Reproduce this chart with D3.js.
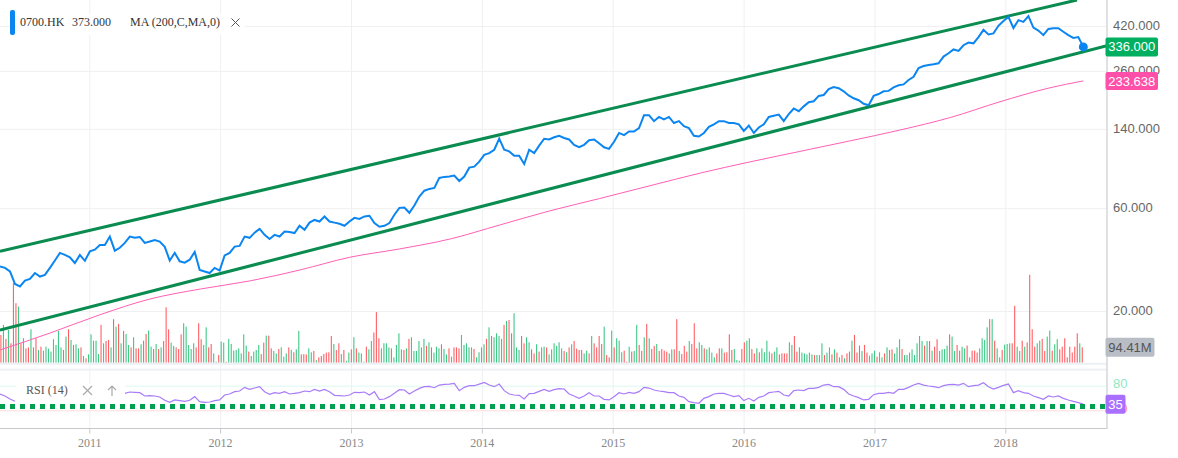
<!DOCTYPE html>
<html>
<head>
<meta charset="utf-8">
<title>0700.HK</title>
<script src="https://cdn.jsdelivr.net/npm/d3@7"></script>
<style>
html, body { margin: 0; padding: 0; background: #fff; overflow: hidden; }
svg { display: block; }
.serif { font-family: "Liberation Serif", serif; }
.sans { font-family: "Liberation Sans", sans-serif; }
</style>
</head>
<body>
<svg id="chart" width="1178" height="458"></svg>
<script>

// all values
var symbol = '0700.HK';
var last_close = '373.000';
var ma_name = 'MA (200,C,MA,0)';
var rsi_name = 'RSI (14)';

var year_ticks = [2011, 2012, 2013, 2014, 2015, 2016, 2017, 2018];
var price_ticks = [420, 260, 140, 60, 20];
var rsi_ticks = [80, 20];

var first_year = 2010.318;
var last_year = 2018.596;
var vol_first_year = 2010.325;
var vol_last_year = 2018.588;

var price_last = 336;
var ma_last = 233.638;
var volume_last = 94.41;
var rsi_last = 35;
var rsi_level = 29.4;

var prices = [
    32.2, 31.7, 30.5, 26.7, 26.0, 27.7, 28.2, 30.0, 28.9, 29.4,
    31.7, 34.3, 37.2, 36.4, 35.5, 33.4, 36.4, 34.2, 37.8, 38.5,
    40.5, 40.5, 44.3, 38.1, 39.3, 41.4, 44.3, 43.7, 44.1, 41.4,
    42.0, 42.7, 42.0, 39.7, 34.3, 37.2, 34.0, 33.5, 34.6, 37.6,
    31.0, 30.5, 30.0, 31.7, 30.8, 36.2, 37.2, 39.8, 40.1, 44.3,
    43.7, 46.2, 48.1, 45.1, 43.2, 45.1, 44.3, 46.7, 46.5, 46.0,
    49.7, 47.6, 51.4, 52.9, 52.0, 54.9, 52.0, 51.4, 50.8, 49.7,
    52.0, 54.1, 53.5, 54.9, 55.3, 51.2, 49.2, 49.7, 51.2, 55.9,
    60.2, 60.4, 57.1, 61.7, 67.9, 72.3, 73.7, 74.5, 82.9, 83.8,
    84.1, 85.0, 80.2, 84.1, 92.5, 93.5, 98.6, 106, 108, 112,
    126, 112, 110, 105, 105, 96.2, 112, 108, 117, 126,
    125, 128, 130, 127, 125, 118, 115, 118, 124, 125,
    120, 115, 113, 122, 134, 131, 136, 136, 141, 162,
    162, 152, 159, 155, 159, 149, 152, 144, 141, 130,
    129, 134, 143, 147, 152, 152, 149, 149, 147, 137,
    145, 134, 142, 147, 159, 161, 163, 152, 164, 174,
    169, 178, 186, 188, 199, 201, 214, 219, 216, 209,
    200, 194, 190, 183, 180, 199, 203, 209, 210, 218,
    223, 225, 236, 244, 268, 274, 277, 279, 282, 303,
    314, 327, 322, 342, 352, 349, 373, 403, 384, 388,
    421, 443, 463, 411, 447, 439, 467, 413, 400, 381,
    407, 410, 410, 395, 381, 370, 373, 336
];

var ma_years = [2010.32, 2010.70, 2011.08, 2011.46, 2011.85, 2012.23, 2012.61, 2012.99,
    2013.37, 2013.76, 2014.14, 2014.52, 2014.90, 2015.28, 2015.67, 2016.05,
    2016.43, 2016.81, 2017.19, 2017.58, 2017.96, 2018.34, 2018.596];
var ma_values = [13.2, 15.8, 19.2, 22.7, 25.3, 27.6, 31.0, 35.5,
    38.8, 43.2, 50.2, 58.3, 66.5, 76.1, 87.3, 98.4,
    110, 123, 138, 158, 187, 217, 233.638];

// the two hand drawn channel lines: [year, price] at both ends
var channel_years = [[2010.318, 2018.548], [2010.318, 2018.777]];
var channel_values = [[37.8, 554.6], [16.3, 340]];

// volume in millions, weekly
var volumes = [
    170, 232, 146, 201, 119, 488, 365, 344, 119, 150,
    88, 94, 205, 94, 150, 78, 98, 74, 98, 86,
    68, 144, 109, 195, 94, 78, 160, 205, 139, 109,
    113, 88, 94, 41, 27, 51, 174, 135, 135, 53,
    232, 119, 133, 139, 94, 267, 221, 238, 119, 195,
    176, 109, 94, 156, 88, 88, 113, 135, 176, 197,
    98, 84, 115, 84, 94, 133, 340, 205, 123, 103,
    94, 84, 174, 242, 221, 109, 84, 119, 94, 242,
    144, 109, 217, 94, 115, 57, 6, 47, 129, 123,
    6, 146, 115, 74, 78, 88, 57, 174, 105, 68,
    41, 68, 78, 109, 53, 123, 166, 166, 88, 72,
    57, 84, 94, 37, 57, 94, 78, 64, 82, 195,
    51, 53, 51, 88, 64, 72, 16, 33, 41, 53,
    62, 64, 164, 115, 78, 119, 53, 78, 12, 62,
    82, 156, 88, 62, 57, 6, 98, 82, 133, 185,
    310, 150, 88, 119, 119, 94, 88, 33, 109, 180,
    82, 78, 88, 146, 156, 72, 72, 133, 94, 146,
    103, 125, 94, 62, 98, 88, 113, 84, 51, 88,
    37, 94, 94, 88, 170, 109, 119, 94, 94, 84,
    33, 64, 94, 113, 146, 217, 164, 156, 180, 164,
    146, 232, 256, 262, 180, 303, 94, 78, 164, 119,
    156, 125, 82, 57, 113, 68, 94, 98, 94, 51,
    82, 119, 103, 125, 88, 72, 64, 94, 113, 133,
    86, 78, 78, 57, 74, 57, 164, 119, 94, 164,
    115, 221, 47, 33, 197, 94, 150, 135, 64, 74,
    6, 98, 68, 72, 232, 109, 72, 156, 238, 150,
    84, 103, 115, 72, 84, 74, 68, 57, 82, 82,
    267, 72, 53, 103, 68, 133, 115, 242, 88, 125,
    109, 88, 82, 94, 62, 33, 57, 88, 88, 62,
    64, 174, 78, 84, 16, 12, 84, 125, 135, 150,
    84, 57, 88, 64, 88, 64, 135, 68, 57, 68,
    94, 51, 57, 57, 57, 125, 109, 164, 68, 94,
    62, 57, 51, 62, 51, 47, 47, 47, 119, 47,
    62, 94, 51, 82, 62, 33, 47, 27, 57, 68,
    135, 170, 62, 105, 72, 109, 62, 43, 57, 74,
    37, 64, 33, 57, 94, 78, 82, 57, 94, 144,
    84, 47, 47, 62, 82, 47, 119, 164, 133, 105,
    133, 133, 74, 98, 144, 72, 82, 84, 105, 174,
    160, 72, 109, 74, 98, 88, 105, 33, 74, 74,
    62, 88, 150, 139, 217, 267, 267, 135, 88, 33,
    78, 111, 115, 119, 119, 349, 98, 72, 135, 98,
    125, 539, 205, 98, 119, 135, 146, 72, 160, 197,
    74, 113, 144, 82, 98, 150, 33, 98, 62, 98,
    180, 119, 94.41
];

// g = up week, r = down week, same order as volumes
var volume_dirs = [
    'rgrgrrrgrg', 'rrgrrgrggg', 'gggggrgrgr', 'ggrgrggggg', 'rgrrgrgrgr', 'ggrgrrgrrg',
    'grgrgrrrgg', 'rrrgggggrr', 'rggrrggrgg', 'rggggggggr', 'ggggrrgrrg', 'grgggrgrgg',
    'rrrggrgrrr', 'rrrgrrgrgg', 'rgrgggrggr', 'rrggggrggg',
    'grgrgggggg', 'rgrgggrggr', 'grrrgggggr', 'ggggrgrggg', 'grgrrgggrr', 'ggrrgrggrg',
    'gggggrgrgr', 'rrrggrgrrr', 'rgrrgrgggr', 'rgrggrrgrg', 'rrgrrrrggr', 'rgrrrgrrrg',
    'grggggrrgr', 'rrrgggrrgg', 'rrgrggggrg', 'grrrrggrrg',
    'gggggrgggr', 'ggrgrgrgrr', 'grrrgrrggg', 'rggrgrrggg', 'rggggggggr', 'grgrrggggr',
    'ggrrggrgrr', 'rggggrgrgg', 'rgggrrggrg', 'rrrrggrrgg', 'rggrrrrrrr', 'rgr'
].join('');

// same dates as prices, null where the RSI title box sits over the line
var rsi_values = [
    59.8, 54.9, 47.6, 41.9,
    null, null, null, null, null, null, null, null, null, null, null,
    null, null, null, null, null, null, null, null, null, null,
    61.4, 64.6, 63.8, 63.0, 54.9, 55.7, 54.9, 52.5, 44.4, 39.5,
    45.2, 43.6, 41.9, 44.4, 53.3, 41.1, 39.5, 40.3, 43.6, 45.2,
    57.3, 59.8, 65.4, 67.0, 76.0, 71.1, 74.3, 77.6, 65.4, 58.9,
    63.0, 61.4, 65.4, 59.8, 61.4, 63.0, 67.0, 65.4, 71.1, 67.0,
    71.1, 65.4, 56.5, 55.7, 54.9, 57.3, 63.8, 63.0, 64.6, 57.3,
    65.4, 46.0, 47.6, 53.3, 61.4, 70.3,
    69.5, 59.8, 67.0, 73.5, 77.6, 78.4, 75.1, 81.6, 83.2,
    84.0, 85.7, 67.9, 76.0, 80.0, 80.0, 84.0, 88.1, 81.6, 77.6,
    84.0, 67.9, 59.8, 57.3, 56.5, 47.6, 60.6, 61.4, 66.2, 71.1,
    66.2, 70.3, 72.7, 71.9, 59.8, 54.9, 49.2, 54.9, 63.0, 54.9,
    54.9, 46.8, 45.2, 53.3, 63.0, 59.8, 63.8, 61.4, 65.4, 76.0,
    74.3, 69.5, 67.0, 65.4, 63.0, 63.0, 54.9, 51.6, 41.1, 38.7,
    37.1, 49.2, 53.3, 59.8, 61.4, 61.4, 57.3, 53.3, 55.7, 43.6,
    49.2, 42.7, 51.6, 54.9, 63.0, 64.6, 66.2, 57.3, 54.9, 67.9,
    69.5, 67.9, 73.5, 73.5, 76.0, 81.6, 83.2, 77.6, 77.6, 71.1,
    59.8, 54.9, 50.8, 45.2, 46.8, 58.1, 61.4, 61.4, 63.8, 61.4,
    71.1, 71.1, 76.0, 81.6, 85.7, 81.6, 79.2, 77.6, 75.1, 80.0,
    82.4, 83.2, 81.6, 85.7, 77.6, 80.0, 81.6, 87.3, 77.6, 71.9,
    76.0, 80.8, 84.0, 63.0, 67.9, 63.0, 61.4, 54.9, 50.8, 46.8,
    54.9, 52.5, 54.9, 49.2, 45.2, 41.9, 38.7, 35
];

var svg = d3.select('#chart');
var plot_right = 1107;

var x = d3.scaleLinear().domain([first_year, 2018.777]).range([0, plot_right]);
var y = d3.scaleLog().domain([20, 420]).range([311, 26]);
var y_volume = d3.scaleLinear().domain([0, volume_last]).range([362.7, 347.3]);
var y_rsi = d3.scaleLinear().domain([20, 80]).range([410.3, 385.7]);

var price_step = (last_year - first_year) / (prices.length - 1);
var price_years = prices.map(function(d, i) { return first_year + i * price_step; });
var vol_step = (vol_last_year - vol_first_year) / (volumes.length - 1);

svg.append('defs').append('clipPath').attr('id', 'plot-clip')
    .append('rect').attr('width', plot_right).attr('height', 428);

// grid
var x_grid = svg.append('g').attr('transform', 'translate(0,428)')
    .call(d3.axisBottom(x).tickValues(year_ticks).tickSize(-428).tickFormat(''));
x_grid.select('.domain').remove();
x_grid.selectAll('line').attr('stroke', '#eef0f2');

var y_grid = svg.append('g')
    .call(d3.axisRight(y).tickValues(price_ticks).tickSize(plot_right).tickFormat(''));
y_grid.select('.domain').remove();
y_grid.selectAll('line').attr('stroke', '#f0f0f0');

var rsi_grid = svg.append('g')
    .call(d3.axisRight(y_rsi).tickValues(rsi_ticks).tickSize(plot_right).tickFormat(''));
rsi_grid.select('.domain').remove();
rsi_grid.selectAll('line').attr('stroke', function(d) { return d == 80 ? '#dcf8ef' : '#ffdcdc'; });

var plot = svg.append('g').attr('clip-path', 'url(#plot-clip)');

// volume
plot.append('g').selectAll('rect')
    .data(volumes)
    .enter().append('rect')
    .attr('x', function(d, i) { return x(vol_first_year + i * vol_step) - 0.55; })
    .attr('y', function(d) { return y_volume(d); })
    .attr('width', 1.1)
    .attr('height', function(d) { return y_volume(0) - y_volume(d); })
    .attr('fill', function(d, i) { return volume_dirs[i] == 'g' ? '#3fc886' : '#ff6066'; });

// panel separators
[[362.8, 2], [368.6, 2]].forEach(function(b) {
    svg.append('rect').attr('x', 0).attr('y', b[0]).attr('width', plot_right).attr('height', b[1]).attr('fill', '#edf0f5');
});

var line = d3.line()
    .x(function(d) { return x(d[0]); })
    .y(function(d) { return y(d[1]); });

// moving average
plot.append('path')
    .attr('d', line.curve(d3.curveMonotoneX)(d3.zip(ma_years, ma_values)))
    .attr('fill', 'none').attr('stroke', '#ff5fb4').attr('stroke-width', 1);
line.curve(d3.curveLinear);

// channel
channel_years.forEach(function(years, i) {
    plot.append('path')
        .attr('d', line(d3.zip(years, channel_values[i])))
        .attr('fill', 'none').attr('stroke', '#0a8c50').attr('stroke-width', 3);
});

// price
plot.append('path')
    .attr('d', line(d3.zip(price_years, prices)))
    .attr('fill', 'none').attr('stroke', '#0b86f1').attr('stroke-width', 2);

svg.append('circle')
    .attr('cx', x(last_year)).attr('cy', y(price_last)).attr('r', 4.5).attr('fill', '#0b86f1');

// rsi
var rsi_line = d3.line()
    .defined(function(d) { return d != null; })
    .x(function(d, i) { return x(price_years[i]); })
    .y(function(d) { return y_rsi(d); });

svg.append('path')
    .attr('d', rsi_line(rsi_values))
    .attr('fill', 'none').attr('stroke', '#a97cf8').attr('stroke-width', 1.2);

svg.append('line')
    .attr('x1', 0).attr('x2', 1110)
    .attr('y1', y_rsi(rsi_level)).attr('y2', y_rsi(rsi_level))
    .attr('stroke', '#00a050').attr('stroke-width', 5).attr('stroke-dasharray', '5,5');

// axes
var x_axis = svg.append('g').attr('transform', 'translate(0,428.5)')
    .call(d3.axisBottom(x).tickValues(year_ticks).tickSize(5).tickPadding(5).tickFormat(d3.format('d')));
x_axis.select('.domain').attr('d', 'M0,0H' + plot_right).attr('stroke', '#c6c8cc');
x_axis.selectAll('line').attr('stroke', '#c6c8cc');
x_axis.selectAll('text').attr('class', 'serif').attr('font-size', 12).attr('fill', '#888');

svg.append('line').attr('x1', plot_right).attr('x2', plot_right).attr('y1', 0).attr('y2', 429)
    .attr('stroke', '#d5d7da').attr('stroke-width', 1.5);

var y_axis = svg.append('g').attr('transform', 'translate(' + plot_right + ',0)')
    .call(d3.axisRight(y).tickValues(price_ticks).tickSize(0).tickPadding(6).tickFormat(d3.format('.3f')));
y_axis.select('.domain').remove();
y_axis.selectAll('text').attr('class', 'sans').attr('font-size', 13).attr('fill', '#666').attr('dy', '0.28em');

var rsi_axis = svg.append('g').attr('transform', 'translate(' + plot_right + ',-1.5)')
    .call(d3.axisRight(y_rsi).tickValues(rsi_ticks).tickSize(0).tickPadding(6));
rsi_axis.select('.domain').remove();
rsi_axis.selectAll('text').attr('class', 'sans').attr('font-size', 13).attr('dy', '0.28em')
    .attr('fill', function(d) { return d == 80 ? '#8fe8c0' : '#ff8a8a'; });

// value tags on the right
var tag = function(cy, w, h, fill, color, label) {
    svg.append('rect').attr('x', 1105.5).attr('y', cy - h / 2).attr('width', w).attr('height', h).attr('rx', 2).attr('fill', fill);
    svg.append('text').attr('class', 'sans').attr('x', 1105.5 + w / 2).attr('y', cy + 4.6)
        .attr('text-anchor', 'middle').attr('font-size', 13).attr('fill', color).text(label);
};

tag(y(price_last), 52.5, 19, '#00b060', '#fff', d3.format('.3f')(price_last));
tag(y(ma_last), 52.5, 18, '#ff4fa8', '#fff', d3.format('.3f')(ma_last));
tag(y_volume(volume_last), 49, 19, '#b9bdc5', '#555', volume_last + 'M');
tag(y_rsi(rsi_last), 20, 19, '#a970ff', '#fff', rsi_last);

// legends
svg.append('rect').attr('x', 16).attr('y', 14).attr('width', 229).attr('height', 21).attr('fill', '#fff');
svg.append('rect').attr('x', 10).attr('y', 10).attr('width', 5).attr('height', 25).attr('rx', 2).attr('fill', '#0b86f1');

var legend_text = function(px, py, color, label) {
    svg.append('text').attr('class', 'serif').attr('x', px).attr('y', py)
        .attr('font-size', 12).attr('fill', color).text(label);
};

legend_text(20, 26, '#333', symbol);
legend_text(72, 26, '#333', last_close);
legend_text(130, 26, '#333', ma_name);

svg.append('path').attr('d', d3.line()([[231.5, 18.5], [239.5, 26.5]]) + d3.line()([[239.5, 18.5], [231.5, 26.5]]))
    .attr('fill', 'none').attr('stroke', '#555').attr('stroke-width', 1);

svg.append('rect').attr('x', 16).attr('y', 384).attr('width', 109).attr('height', 14).attr('fill', '#fff');
legend_text(26, 394, '#555', rsi_name);

svg.append('path').attr('d', d3.line()([[83, 386], [92, 395]]) + d3.line()([[92, 386], [83, 395]]))
    .attr('fill', 'none').attr('stroke', '#aaa').attr('stroke-width', 1.2);
svg.append('path').attr('d', d3.line()([[112, 396], [112, 386]]) + d3.line()([[108, 390], [112, 386], [116, 390]]))
    .attr('fill', 'none').attr('stroke', '#aaa').attr('stroke-width', 1.2);

</script>
</body>
</html>
